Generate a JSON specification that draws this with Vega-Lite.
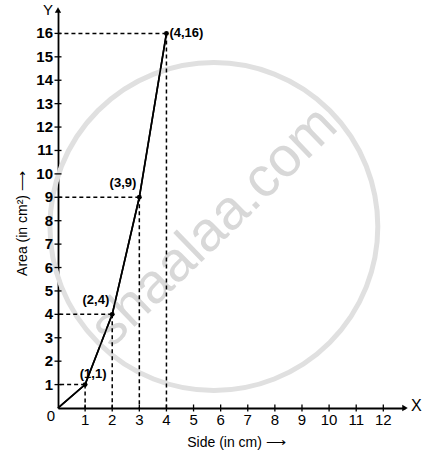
{
  "$schema": "https://vega.github.io/schema/vega-lite/v6.json",
  "width": 347,
  "height": 398,
  "autosize": {"type": "none"},
  "padding": {"left": 58, "top": 10, "right": 18, "bottom": 47},
  "background": "white",
  "config": {"view": {"stroke": null}, "font": "Liberation Sans"},
  "datasets": {
    "curve": [
      {"x": 0, "y": 0},
      {"x": 1, "y": 1},
      {"x": 2, "y": 4},
      {"x": 3, "y": 9},
      {"x": 4, "y": 16}
    ],
    "pts": [
      {"x": 1, "y": 1, "label": "(1,1)"},
      {"x": 2, "y": 4, "label": "(2,4)"},
      {"x": 3, "y": 9, "label": "(3,9)"},
      {"x": 4, "y": 16, "label": "(4,16)"}
    ],
    "xt": [
      {"v": 1, "zero": 0}, {"v": 2, "zero": 0}, {"v": 3, "zero": 0}, {"v": 4, "zero": 0},
      {"v": 5, "zero": 0}, {"v": 6, "zero": 0}, {"v": 7, "zero": 0}, {"v": 8, "zero": 0},
      {"v": 9, "zero": 0}, {"v": 10, "zero": 0}, {"v": 11, "zero": 0}, {"v": 12, "zero": 0}
    ],
    "yt": [
      {"v": 1, "zero": 0}, {"v": 2, "zero": 0}, {"v": 3, "zero": 0}, {"v": 4, "zero": 0},
      {"v": 5, "zero": 0}, {"v": 6, "zero": 0}, {"v": 7, "zero": 0}, {"v": 8, "zero": 0},
      {"v": 9, "zero": 0}, {"v": 10, "zero": 0}, {"v": 11, "zero": 0}, {"v": 12, "zero": 0},
      {"v": 13, "zero": 0}, {"v": 14, "zero": 0}, {"v": 15, "zero": 0}, {"v": 16, "zero": 0}
    ],
    "wm": [{"x": 5.75, "y": 7.75, "text": "shaalaa.com"}],
    "arrows": [{"x": 0, "y": 17, "name": "Y"}, {"x": 12.8, "y": 0, "name": "X"}],
    "origin": [{"x": 0, "y": 0, "t": "0"}]
  },
  "layer": [
    {
      "data": {"name": "curve"},
      "mark": {"type": "line", "color": "black", "strokeWidth": 1.6},
      "encoding": {
        "x": {"field": "x", "type": "quantitative", "scale": {"domain": [0, 12.8], "nice": false, "zero": false},
          "axis": {"labels": false, "ticks": false, "grid": false, "title": "Side (in cm) ⟶", "titleFontSize": 14, "titleFontWeight": "normal", "titleColor": "black", "titlePadding": 27, "titleX": 178, "domainColor": "black", "domainWidth": 1.8}},
        "y": {"field": "y", "type": "quantitative", "scale": {"domain": [0, 17], "nice": false, "zero": false},
          "axis": {"labels": false, "ticks": false, "grid": false, "title": "Area (in cm²) ⟶", "titleFontSize": 14, "titleFontWeight": "normal", "titleColor": "black", "titlePadding": 29, "titleY": 213, "domainColor": "black", "domainWidth": 1.8}}
      }
    },
    {
      "data": {"name": "wm"},
      "mark": {"type": "point", "shape": "circle", "filled": false, "size": 107500, "stroke": "#e0e0e0", "strokeWidth": 5, "opacity": 1},
      "encoding": {"x": {"field": "x", "type": "quantitative"}, "y": {"field": "y", "type": "quantitative"}}
    },
    {
      "data": {"name": "wm"},
      "mark": {"type": "text", "angle": -44, "fontSize": 56, "color": "#d8d8d8", "font": "Liberation Sans", "align": "center", "baseline": "middle"},
      "encoding": {"x": {"field": "x", "type": "quantitative"}, "y": {"field": "y", "type": "quantitative"}, "text": {"field": "text", "type": "nominal"}}
    },
    {
      "data": {"name": "xt"},
      "mark": {"type": "tick", "orient": "vertical", "size": 7, "thickness": 1.3, "color": "black", "opacity": 1},
      "encoding": {"x": {"field": "v", "type": "quantitative"}, "y": {"field": "zero", "type": "quantitative"}}
    },
    {
      "data": {"name": "yt"},
      "mark": {"type": "tick", "orient": "horizontal", "size": 7, "thickness": 1.3, "color": "black", "opacity": 1},
      "encoding": {"y": {"field": "v", "type": "quantitative"}, "x": {"field": "zero", "type": "quantitative"}}
    },
    {
      "data": {"name": "xt"},
      "mark": {"type": "text", "align": "center", "baseline": "top", "dy": 5, "fontSize": 15, "color": "black"},
      "encoding": {"x": {"field": "v", "type": "quantitative"}, "y": {"field": "zero", "type": "quantitative"}, "text": {"field": "v", "type": "nominal"}}
    },
    {
      "data": {"name": "yt"},
      "mark": {"type": "text", "align": "right", "baseline": "middle", "dx": -5, "fontSize": 15, "fontWeight": "bold", "color": "black"},
      "encoding": {"y": {"field": "v", "type": "quantitative"}, "x": {"field": "zero", "type": "quantitative"}, "text": {"field": "v", "type": "nominal"}}
    },
    {
      "data": {"name": "pts"},
      "mark": {"type": "rule", "strokeDash": [4, 3], "color": "black", "strokeWidth": 1.5},
      "encoding": {"x": {"field": "x", "type": "quantitative"}, "x2": {"datum": 0}, "y": {"field": "y", "type": "quantitative"}}
    },
    {
      "data": {"name": "pts"},
      "mark": {"type": "rule", "strokeDash": [4, 3], "color": "black", "strokeWidth": 1.5},
      "encoding": {"y": {"field": "y", "type": "quantitative"}, "y2": {"datum": 0}, "x": {"field": "x", "type": "quantitative"}}
    },
    {
      "data": {"name": "curve"},
      "mark": {"type": "line", "color": "black", "strokeWidth": 1.7},
      "encoding": {"x": {"field": "x", "type": "quantitative"}, "y": {"field": "y", "type": "quantitative"}}
    },
    {
      "data": {"name": "pts"},
      "mark": {"type": "point", "filled": true, "color": "black", "size": 24, "opacity": 1},
      "encoding": {"x": {"field": "x", "type": "quantitative"}, "y": {"field": "y", "type": "quantitative"}}
    },
    {
      "data": {"name": "pts"},
      "transform": [{"filter": "datum.x == 4"}],
      "mark": {"type": "text", "align": "left", "baseline": "middle", "dx": 3, "fontSize": 13, "fontWeight": "bold", "color": "black"},
      "encoding": {"x": {"field": "x", "type": "quantitative"}, "y": {"field": "y", "type": "quantitative"}, "text": {"field": "label", "type": "nominal"}}
    },
    {
      "data": {"name": "pts"},
      "transform": [{"filter": "datum.x == 3 || datum.x == 2"}],
      "mark": {"type": "text", "align": "right", "baseline": "middle", "dx": -3, "dy": -14, "fontSize": 13, "fontWeight": "bold", "color": "black"},
      "encoding": {"x": {"field": "x", "type": "quantitative"}, "y": {"field": "y", "type": "quantitative"}, "text": {"field": "label", "type": "nominal"}}
    },
    {
      "data": {"name": "pts"},
      "transform": [{"filter": "datum.x == 1"}],
      "mark": {"type": "text", "align": "center", "baseline": "middle", "dx": 8, "dy": -11, "fontSize": 13, "fontWeight": "bold", "color": "black"},
      "encoding": {"x": {"field": "x", "type": "quantitative"}, "y": {"field": "y", "type": "quantitative"}, "text": {"field": "label", "type": "nominal"}}
    },
    {
      "data": {"name": "arrows"},
      "transform": [{"filter": "datum.name == 'Y'"}],
      "mark": {"type": "point", "shape": "triangle-up", "filled": true, "color": "black", "size": 40, "opacity": 1},
      "encoding": {"x": {"field": "x", "type": "quantitative"}, "y": {"field": "y", "type": "quantitative"}}
    },
    {
      "data": {"name": "arrows"},
      "transform": [{"filter": "datum.name == 'X'"}],
      "mark": {"type": "point", "shape": "triangle-right", "filled": true, "color": "black", "size": 40, "opacity": 1},
      "encoding": {"x": {"field": "x", "type": "quantitative"}, "y": {"field": "y", "type": "quantitative"}}
    },
    {
      "data": {"name": "arrows"},
      "transform": [{"filter": "datum.name == 'Y'"}],
      "mark": {"type": "text", "align": "right", "baseline": "middle", "dx": -5, "dy": 0, "fontSize": 15, "color": "black"},
      "encoding": {"x": {"field": "x", "type": "quantitative"}, "y": {"field": "y", "type": "quantitative"}, "text": {"field": "name", "type": "nominal"}}
    },
    {
      "data": {"name": "arrows"},
      "transform": [{"filter": "datum.name == 'X'"}],
      "mark": {"type": "text", "align": "left", "baseline": "middle", "dx": 6, "dy": -2, "fontSize": 16, "color": "black"},
      "encoding": {"x": {"field": "x", "type": "quantitative"}, "y": {"field": "y", "type": "quantitative"}, "text": {"field": "name", "type": "nominal"}}
    },
    {
      "data": {"name": "origin"},
      "mark": {"type": "text", "align": "right", "baseline": "middle", "dx": -3, "dy": 8, "fontSize": 15, "color": "black"},
      "encoding": {"x": {"field": "x", "type": "quantitative"}, "y": {"field": "y", "type": "quantitative"}, "text": {"field": "t", "type": "nominal"}}
    }
  ]
}
